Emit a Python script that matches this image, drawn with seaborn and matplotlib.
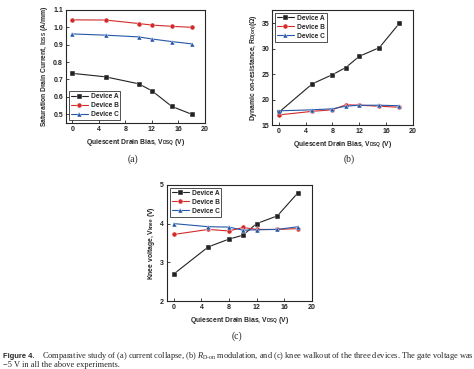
import pandas as pd
import matplotlib
matplotlib.use("Agg")
import matplotlib.pyplot as plt
import seaborn as sns

# ---- data ----
devices = ["Device A", "Device B", "Device C"]

bias_a = [0, 5, 10, 12, 15, 18]
idss_a = [0.735, 0.715, 0.675, 0.635, 0.545, 0.500]
idss_b = [1.043, 1.042, 1.022, 1.013, 1.006, 1.000]
idss_c = [0.962, 0.955, 0.945, 0.933, 0.918, 0.905]

bias_bc = [0, 5, 8, 10, 12, 15, 18]
ron_a = [17.5, 23.1, 24.9, 26.3, 28.5, 30.2, 35.0]
ron_b = [17.0, 17.7, 18.0, 19.0, 18.9, 18.7, 18.5]
ron_c = [17.8, 18.0, 18.2, 18.7, 18.9, 18.9, 18.8]

knee_a = [2.7, 3.4, 3.6, 3.7, 4.0, 4.2, 4.8]
knee_b = [3.72, 3.85, 3.81, 3.90, 3.85, 3.85, 3.87]
knee_c = [4.00, 3.92, 3.91, 3.83, 3.84, 3.85, 3.92]

xticks = [0, 4, 8, 12, 16, 20]

sns.set_style("ticks")
plt.rcParams["font.family"] = ["Liberation Sans", "DejaVu Sans"]
plt.rcParams["font.weight"] = "bold"
plt.rcParams["mathtext.fontset"] = "custom"
plt.rcParams["mathtext.rm"] = "Liberation Serif:weight=normal"
plt.rcParams["mathtext.it"] = "Liberation Serif:style=italic:weight=normal"
plt.rcParams["mathtext.bf"] = "Liberation Sans:bold"

palette = {"Device A": "#222222", "Device B": "#d42a2a", "Device C": "#2557a8"}
markers = {"Device A": "s", "Device B": "o", "Device C": "^"}


def long_form(x, ys):
    rows = []
    for dev, y in zip(devices, ys):
        for xi, yi in zip(x, y):
            rows.append({"bias": xi, "val": yi, "device": dev})
    return pd.DataFrame(rows)


def panel(ax, df, ylim, yticks, yfmt, ylabel, legend_loc):
    sns.lineplot(data=df, x="bias", y="val", hue="device", style="device",
                 palette=palette, markers=markers, dashes=False, ax=ax,
                 linewidth=0.8, markersize=3.6, markeredgewidth=0.3)
    ax.set_xlim(-1, 20)
    ax.set_ylim(*ylim)
    ax.set_xticks(xticks)
    ax.set_yticks(yticks)
    ax.set_yticklabels([yfmt.format(t) for t in yticks])
    ax.tick_params(direction="in", length=2, width=0.6, labelsize=5.0, pad=2)
    for s in ax.spines.values():
        s.set_visible(True)
        s.set_linewidth(0.8)
    ax.set_xlabel(r"Quiescent Drain Bias, V$_{\mathbf{DSQ}}$ (V)", fontsize=4.9,
                  fontweight="bold", labelpad=3)
    ax.set_ylabel(ylabel, fontsize=4.9, fontweight="bold", labelpad=2)
    leg = ax.legend(loc=legend_loc, fontsize=4.8, frameon=True, fancybox=False,
                    edgecolor="black", handlelength=2.6, borderpad=0.3,
                    labelspacing=0.3, handletextpad=0.4, borderaxespad=0.4)
    leg.get_frame().set_linewidth(0.6)


fig = plt.figure(figsize=(4.74, 3.69), dpi=100)
ax_a = fig.add_axes([0.139, 0.667, 0.293, 0.306])
ax_b = fig.add_axes([0.574, 0.661, 0.297, 0.312])
ax_c = fig.add_axes([0.352, 0.184, 0.306, 0.315])

panel(ax_a, long_form(bias_a, [idss_a, idss_b, idss_c]), (0.45, 1.1),
      [0.5, 0.6, 0.7, 0.8, 0.9, 1.0, 1.1], "{:.1f}",
      r"Saturation Drain Current, I$_{\mathbf{DSS}}$ (A/mm)", "lower left")
panel(ax_b, long_form(bias_bc, [ron_a, ron_b, ron_c]), (15, 37.6),
      [15, 20, 25, 30, 35], "{:.0f}",
      r"Dynamic on-resistance, R$_{\mathbf{D(on)}}$(Ω)", "upper left")
panel(ax_c, long_form(bias_bc, [knee_a, knee_b, knee_c]), (2, 5),
      [2, 3, 4, 5], "{:.0f}",
      r"Knee voltage, V$_{\mathbf{knee}}$ (V)", "upper left")

serif = ["Liberation Serif", "DejaVu Serif"]
fig.text(133 / 474, 1 - 159 / 369, "(a)", ha="center", va="center",
         family=serif, fontweight="normal", fontsize=7)
fig.text(349 / 474, 1 - 159 / 369, "(b)", ha="center", va="center",
         family=serif, fontweight="normal", fontsize=7)
fig.text(237 / 474, 1 - 336 / 369, "(c)", ha="center", va="center",
         family=serif, fontweight="normal", fontsize=7)

fig.text(3 / 474, 1 - 356 / 369, "Figure 4.", ha="left", va="center",
         fontweight="bold", fontsize=5.4)
fig.text(42 / 474, 1 - 356 / 369,
         r"Comparative study of (a) current collapse, (b) $R_{\mathrm{D\text{-}on}}$ modulation, "
         "and (c) knee walkout of the three devices. The gate voltage was",
         ha="left", va="center", family=serif, fontweight="normal", fontsize=6.05)
fig.text(3 / 474, 1 - 365 / 369, "\u22125 V in all the above experiments.",
         ha="left", va="center", family=serif, fontweight="normal", fontsize=6.05)

fig.savefig("out.png", dpi=100)
